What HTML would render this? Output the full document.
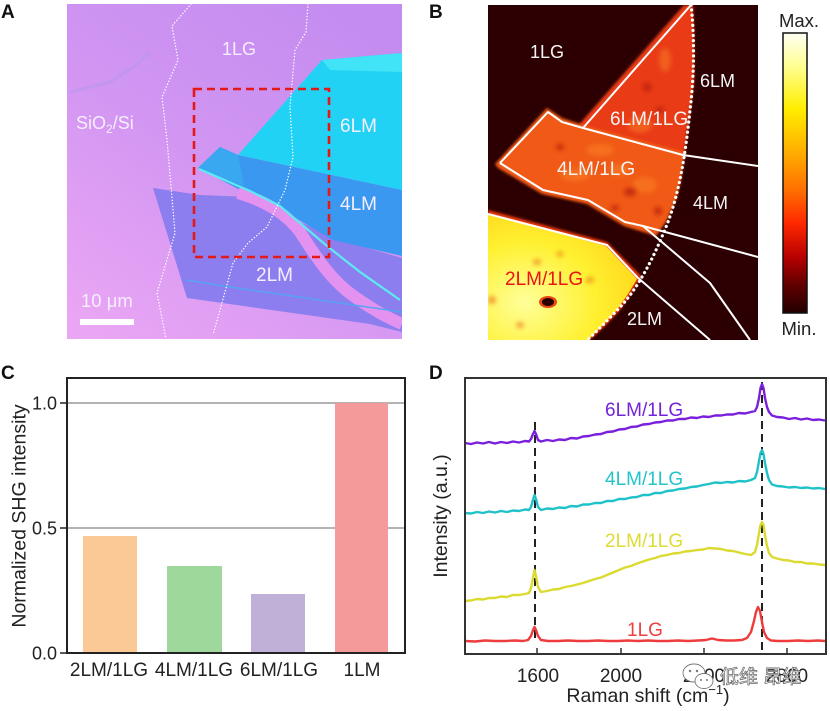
<!DOCTYPE html>
<html>
<head>
<meta charset="utf-8">
<style>
html,body{margin:0;padding:0;background:#fff;}
svg{display:block;}
text{font-family:"Liberation Sans",Arial,"Noto Sans CJK SC",sans-serif;}
</style>
</head>
<body>
<svg width="830" height="711" viewBox="0 0 830 711" xmlns="http://www.w3.org/2000/svg">
<defs>
  <linearGradient id="bgA" x1="0.8" y1="0" x2="0.1" y2="1">
    <stop offset="0" stop-color="#c48cf0"/>
    <stop offset="0.5" stop-color="#d296f2"/>
    <stop offset="1" stop-color="#eaa6f4"/>
  </linearGradient>
  <linearGradient id="cbar" x1="0" y1="0" x2="0" y2="1">
    <stop offset="0" stop-color="#fffff4"/>
    <stop offset="0.12" stop-color="#ffff90"/>
    <stop offset="0.27" stop-color="#ffee00"/>
    <stop offset="0.42" stop-color="#ffb000"/>
    <stop offset="0.56" stop-color="#ff7000"/>
    <stop offset="0.68" stop-color="#ff2800"/>
    <stop offset="0.8" stop-color="#b80000"/>
    <stop offset="0.9" stop-color="#600000"/>
    <stop offset="1" stop-color="#220000"/>
  </linearGradient>
  <radialGradient id="yel" cx="0.25" cy="0.7" r="0.8">
    <stop offset="0" stop-color="#ffff9a"/>
    <stop offset="0.6" stop-color="#fff030"/>
    <stop offset="1" stop-color="#ffd81c"/>
  </radialGradient>
  <filter id="soft" x="-10%" y="-10%" width="120%" height="120%">
    <feGaussianBlur stdDeviation="1.2"/>
  </filter>
  <filter id="blob" x="-50%" y="-50%" width="200%" height="200%">
    <feGaussianBlur stdDeviation="2.5"/>
  </filter>
  <clipPath id="clipA"><rect x="67" y="4" width="335" height="335"/></clipPath>
  <clipPath id="clipB"><rect x="488" y="5" width="270" height="335"/></clipPath>
</defs>

<!-- Panel labels -->
<text x="1" y="18" font-size="19" font-weight="bold" fill="#111">A</text>
<text x="429" y="18" font-size="19" font-weight="bold" fill="#111">B</text>
<text x="1" y="379" font-size="19" font-weight="bold" fill="#111">C</text>
<text x="429" y="379" font-size="19" font-weight="bold" fill="#111">D</text>

<!-- ================= Panel A ================= -->
<g clip-path="url(#clipA)">
  <rect x="67" y="4" width="335" height="335" fill="url(#bgA)"/>
  <path d="M70,92 L110,82 L135,66 L150,52" stroke="#b898ee" stroke-width="3" fill="none" opacity="0.6"/>
  <!-- 2LM flake -->
  <polygon points="153,188 200,195 250,197 300,222 340,240 402,258 402,332 370,324 187,298" fill="#8c7eee"/>
  <!-- 4LM flake -->
  <polygon points="198,168 220,147 238,155 402,190 402,256 333,240 282,210 250,195" fill="#3a98f0"/>
  <polygon points="198,168 220,147 238,155 244,186" fill="#3aa8f0"/>
  <!-- 6LM flake -->
  <polygon points="322,60 402,53 402,190 238,155" fill="#22d2f4"/>
  <polygon points="322,60 402,53 402,72 330,70" fill="#40e4f6"/>
  <!-- pink strip -->
  <path d="M238,193 C262,200 285,212 300,232 C315,255 330,280 355,297 C372,309 388,318 402,324" stroke="#e392f0" stroke-width="12" fill="none"/>
  <!-- bright line -->
  <path d="M199,169 L250,191 L280,206 L327,246 L360,272 L400,300" stroke="#5eeaf2" stroke-width="2.2" fill="none"/>
  <path d="M186,280 L230,287 L402,312" stroke="#56a4f2" stroke-width="1.5" fill="none"/>
  <!-- dotted 1LG boundaries -->
  <polyline points="191,4 172,26 178,60 162,97 167,140 175,233 157,293 166,339" stroke="#ffffff" stroke-width="1.4" stroke-dasharray="0.1 3" stroke-linecap="round" fill="none"/>
  <polyline points="308,4 306,32 295,50 290,107 293,157 285,190 267,227 248,243 233,263 213,335" stroke="#ffffff" stroke-width="1.4" stroke-dasharray="0.1 3" stroke-linecap="round" fill="none"/>
  <!-- red dashed box -->
  <rect x="194" y="89" width="135" height="168" fill="none" stroke="#e41818" stroke-width="2.6" stroke-dasharray="8 5"/>
  <!-- scale bar -->
  <rect x="80" y="319" width="54" height="6" fill="#ffffff"/>
  <!-- labels -->
  <g fill="#f6eeff" font-size="18">
    <text x="222" y="55">1LG</text>
    <text x="76" y="129">SiO<tspan font-size="12" dy="4">2</tspan><tspan dy="-4">/Si</tspan></text>
    <text x="340" y="132" font-size="19">6LM</text>
    <text x="340" y="210" font-size="19">4LM</text>
    <text x="256" y="281" font-size="19">2LM</text>
    <text x="81" y="307" font-size="18.5">10 μm</text>
  </g>
</g>

<!-- ================= Panel B ================= -->
<g clip-path="url(#clipB)">
  <rect x="488" y="5" width="270" height="335" fill="#2c0002"/>
  <!-- 6LM/1LG region -->
  <polygon points="684,5 693,5 694,30 694,83 689,120 684,158 583,131 576,128" fill="#e83a12" filter="url(#soft)"/>
  <!-- 4LM/1LG region -->
  <polygon points="495,164 547,108 562,118 583,125 685,152 681,180 676,200 666,222 656,236 640,231 624,226 587,204 542,194 498,168" fill="#f05a16" filter="url(#soft)"/>
  <!-- texture blobs -->
  <g fill="#ff8a2a" opacity="0.45" filter="url(#blob)">
    <ellipse cx="600" cy="150" rx="14" ry="6"/>
    <ellipse cx="640" cy="125" rx="12" ry="8"/>
    <ellipse cx="665" cy="60" rx="6" ry="12"/>
    <ellipse cx="575" cy="175" rx="15" ry="6"/>
    <ellipse cx="645" cy="185" rx="12" ry="8"/>
    <ellipse cx="620" cy="170" rx="10" ry="6"/>
  </g>
  <g fill="#b01808" opacity="0.7" filter="url(#blob)">
    <ellipse cx="647" cy="87" rx="4" ry="4"/>
    <ellipse cx="630" cy="192" rx="6" ry="4"/>
    <ellipse cx="658" cy="211" rx="4" ry="4"/>
    <ellipse cx="560" cy="147" rx="4" ry="3"/>
    <ellipse cx="615" cy="208" rx="4" ry="3"/>
    <ellipse cx="660" cy="110" rx="4" ry="3"/>
  </g>
  <!-- 2LM/1LG region -->
  <polygon points="488,210 607,242 641,276 632,292 620,310 605,326 590,340 488,340" fill="#f03a10" filter="url(#soft)"/>
  <polygon points="488,214 606,246 637,279 628,294 616,311 602,326 588,340 488,340" fill="url(#yel)"/>
  <g fill="#e86010" opacity="0.6" filter="url(#blob)">
    <ellipse cx="537" cy="262" rx="4" ry="3"/>
    <ellipse cx="492" cy="300" rx="4" ry="4"/>
    <ellipse cx="560" cy="254" rx="3" ry="3"/>
    <ellipse cx="590" cy="280" rx="4" ry="3"/>
    <ellipse cx="520" cy="325" rx="4" ry="3"/>
  </g>
  <ellipse cx="548" cy="302" rx="9" ry="6" fill="#e84a10"/>
  <ellipse cx="548" cy="302" rx="6" ry="4" fill="#2a0000"/>
  <!-- white solid lines -->
  <g stroke="#ffffff" stroke-width="2" fill="none" stroke-linejoin="round">
    <polyline points="691,5 583,128"/>
    <polyline points="500,163 548,112 562,122 583,128 683,155 758,166"/>
    <polyline points="500,163 543,190 588,200 625,222 643,226 758,257"/>
    <polyline points="643,226 710,283 750,340"/>
    <polyline points="488,214 607,245 637,277 710,340"/>
  </g>
  <!-- dotted -->
  <path d="M691,5 C694,30 695,70 690,110 C686,150 680,190 668,222 C655,255 640,285 622,305 C608,320 596,332 585,342" stroke="#ffffff" stroke-width="3.2" stroke-dasharray="0.1 5" stroke-linecap="round" fill="none"/>
  <!-- labels -->
  <g fill="#f4f4f4" font-size="19">
    <text x="530" y="58" font-size="18">1LG</text>
    <text x="700" y="87" font-size="18">6LM</text>
    <text x="610" y="125">6LM/1LG</text>
    <text x="557" y="175">4LM/1LG</text>
    <text x="693" y="209" font-size="18">4LM</text>
    <text x="505" y="285" fill="#ee1212">2LM/1LG</text>
    <text x="627" y="325" font-size="18">2LM</text>
  </g>
</g>
<!-- colorbar -->
<rect x="783" y="33" width="24" height="280" fill="url(#cbar)" stroke="#111" stroke-width="1.5"/>
<text x="799" y="27" font-size="18.5" text-anchor="middle" fill="#222">Max.</text>
<text x="799" y="335" font-size="18.5" text-anchor="middle" fill="#222">Min.</text>

<!-- ================= Panel C ================= -->
<g>
  <line x1="67" y1="403" x2="405" y2="403" stroke="#9a9a9a" stroke-width="1.5"/>
  <line x1="67" y1="528" x2="405" y2="528" stroke="#9a9a9a" stroke-width="1.5"/>
  <rect x="83" y="536" width="54" height="117" fill="#fbc996"/>
  <rect x="167" y="566" width="55" height="87" fill="#9ed89a"/>
  <rect x="251" y="594" width="54" height="59" fill="#c0b0d8"/>
  <rect x="335" y="403" width="53" height="250" fill="#f59a9a"/>
  <rect x="67" y="378" width="338" height="275" fill="none" stroke="#222" stroke-width="2"/>
  <g stroke="#222" stroke-width="1.5">
    <line x1="60" y1="403" x2="67" y2="403"/>
    <line x1="60" y1="528" x2="67" y2="528"/>
    <line x1="60" y1="653" x2="67" y2="653"/>
  </g>
  <g font-size="18" fill="#222" text-anchor="end">
    <text x="57" y="409.5">1.0</text>
    <text x="57" y="534.5">0.5</text>
    <text x="57" y="659.5">0.0</text>
  </g>
  <g font-size="19" fill="#222" text-anchor="middle">
    <text x="109" y="676">2LM/1LG</text>
    <text x="194" y="676">4LM/1LG</text>
    <text x="279" y="676">6LM/1LG</text>
    <text x="362" y="676">1LM</text>
  </g>
  <text transform="translate(25.5,516) rotate(-90)" font-size="19.5" fill="#222" text-anchor="middle">Normalized SHG intensity</text>
</g>

<!-- ================= Panel D ================= -->
<g>
  <!-- dashed guides -->
  <line x1="535" y1="422" x2="535" y2="640" stroke="#222" stroke-width="2" stroke-dasharray="8 5"/>
  <line x1="762" y1="382" x2="762" y2="653" stroke="#222" stroke-width="2" stroke-dasharray="8 5"/>
  <g fill="none" stroke-width="2.4" stroke-linejoin="round">
    <path stroke="#7a20dc" d="M465,443 L471,444 L477,442.5 L483,443.5 L489,442 L495,443.5 L501,442 L507,443 L513,441.5 L519,442.5 L525,441 L529,441.5 L531,439 L533,434 L534.5,431 L536,434 L538,440 L541,441.5 L547,440 L553,441 L559,439.5 L565,440 L571,438 L577,438.5 L583,436.5 L589,436 L595,434.5 L601,434 L607,432 L613,431.5 L619,429.5 L625,429 L631,427 L637,426.5 L643,424.5 L649,424 L655,422.5 L661,422 L667,420.5 L673,420.5 L679,419 L685,419 L691,417.5 L697,418 L703,416.5 L709,417 L715,415.5 L721,415.5 L727,414.5 L733,414.5 L739,413 L745,413.5 L751,412 L755,411 L757,407 L759,398 L760.5,388 L762,384 L763.5,388 L765,398 L767,407 L769,412 L772,415.5 L777,417 L783,417.5 L789,419 L795,418 L801,419.5 L807,418.5 L813,420 L819,419.5 L825,420.5"/>
    <path stroke="#1fc2c8" d="M465,513 L471,513.5 L477,512 L483,513 L489,511.5 L495,512.5 L501,511 L507,512 L513,510.5 L519,511 L525,509.5 L529,510 L531,507 L533,500 L534.5,495 L536,499 L538,507 L541,510 L547,508.5 L553,509 L559,507.5 L565,508 L571,506 L577,506.5 L583,504.5 L589,504.5 L595,503 L601,503 L607,501 L613,501 L619,499 L625,499 L631,497.5 L637,497 L643,495 L649,495 L655,493 L661,493 L667,491 L673,490.5 L679,489 L685,488.5 L691,487 L697,486.5 L703,485 L709,484 L715,482.5 L721,483 L727,482 L733,482.5 L739,481 L745,481.5 L751,480 L755,478 L757,472 L759,461 L760.5,453 L762,450 L763.5,454 L765,463 L767,473 L769,480 L772,484.5 L777,486 L783,486.5 L789,487.5 L795,487 L801,488 L807,487.5 L813,488.5 L819,488 L825,489"/>
    <path stroke="#dada30" d="M465,601 L471,600.5 L477,599 L483,599.5 L489,598 L495,598 L501,596.5 L507,597 L513,595 L519,595 L525,594 L529,593 L531,588 L533,578 L534.5,570 L536,576 L538,587 L541,592 L547,591 L553,589.5 L559,589 L565,587 L571,586 L577,584.5 L583,583 L589,581 L595,579 L601,577.5 L607,575 L613,572.5 L619,570 L625,567.5 L631,566 L637,563.5 L643,561.5 L649,559.5 L655,558 L661,556 L667,555 L673,553.5 L679,553 L685,551.5 L691,551 L697,550 L703,549.5 L709,548 L715,548.5 L721,549 L727,550.5 L733,551 L739,552.5 L745,554 L751,555 L755,552 L757,545 L759,533 L760.5,525 L762,522 L763.5,525 L765,535 L767,546 L769,553 L772,557 L777,558.5 L783,560 L789,560.5 L795,562 L801,562 L807,563.5 L813,563.5 L819,564.5 L825,565"/>
    <path stroke="#ee3c3c" d="M465,641 L475,641.5 L485,640.5 L495,641 L505,641 L515,640.5 L523,641 L528,640 L531,636 L533,630 L534.5,627 L536,630 L538,636 L541,640 L548,641 L558,641 L568,640.5 L578,641 L588,641 L598,640.5 L608,641 L618,641 L628,640.5 L638,641 L648,640.5 L658,641 L668,641 L678,640.5 L688,641 L698,640.5 L706,640 L712,638.5 L718,640 L726,640.5 L734,640.5 L742,640 L747,638 L751,632 L754,621 L756,612 L758,607 L760,611 L762,622 L764,632 L767,638 L771,640.5 L778,641 L788,641 L798,640.5 L808,641 L818,640.5 L825,641"/>
  </g>
  <rect x="465" y="378" width="361" height="276" fill="none" stroke="#333" stroke-width="2"/>
  <g stroke="#333" stroke-width="1.5">
    <line x1="537" y1="648" x2="537" y2="654"/>
    <line x1="621" y1="648" x2="621" y2="654"/>
    <line x1="704" y1="648" x2="704" y2="654"/>
    <line x1="787" y1="648" x2="787" y2="654"/>
  </g>
  <g font-size="19" fill="#7224d8"><text x="605" y="416">6LM/1LG</text></g>
  <g font-size="19" fill="#22c4ca"><text x="605" y="485">4LM/1LG</text></g>
  <g font-size="19" fill="#dcdc34"><text x="605" y="547">2LM/1LG</text></g>
  <g font-size="19" fill="#ee4040"><text x="627" y="636">1LG</text></g>
  <g font-size="19" fill="#222" text-anchor="middle">
    <text x="538" y="682">1600</text>
    <text x="621" y="682">2000</text>
    <text x="704" y="682">2400</text>
    <text x="787" y="682">2800</text>
  </g>
  <text x="648" y="702" font-size="19.5" fill="#222" text-anchor="middle">Raman shift (cm<tspan font-size="13" dy="-8">−1</tspan><tspan dy="8">)</tspan></text>
  <text transform="translate(447,516) rotate(-90)" font-size="19.5" fill="#222" text-anchor="middle">Intensity (a.u.)</text>
  <!-- watermark -->
  <g stroke="#777" stroke-width="0.9" fill="#ffffff">
    <ellipse cx="694" cy="673" rx="11" ry="9"/>
    <ellipse cx="704" cy="681" rx="9" ry="7.5"/>
  </g>
  <g fill="#777">
    <circle cx="690" cy="671" r="1.2"/><circle cx="697" cy="671" r="1.2"/>
    <circle cx="701" cy="680" r="1"/><circle cx="707" cy="680" r="1"/>
  </g>
  <text x="720" y="683" font-size="19" fill="#ffffff" stroke="#666" stroke-width="0.7" font-family="'Liberation Sans','Noto Sans CJK SC',sans-serif">低维 昂维</text>
</g>
</svg>
</body>
</html>
